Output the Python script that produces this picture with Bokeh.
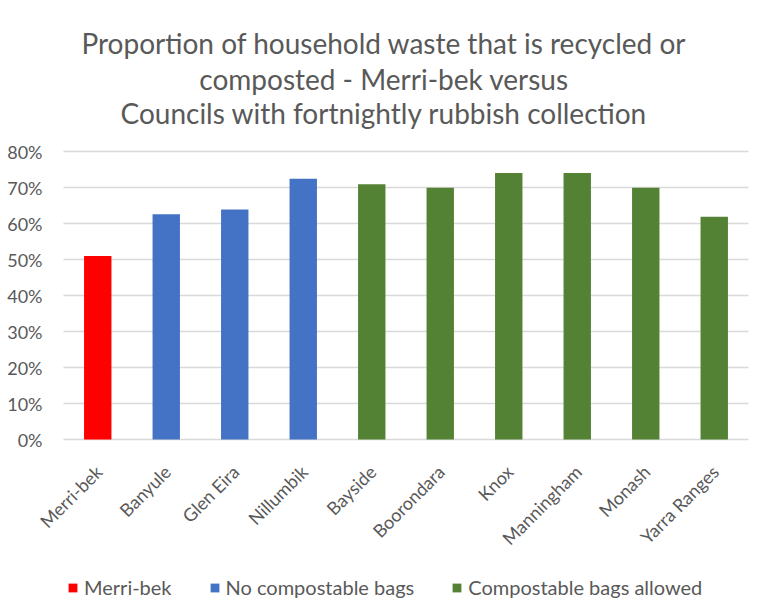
import math
from bokeh.plotting import figure
from bokeh.models import ColumnDataSource, Range1d, Legend, LegendItem
from bokeh.core.properties import value
from bokeh.embed import file_html
from bokeh.resources import INLINE

councils = ["Merri-bek", "Banyule", "Glen Eira", "Nillumbik", "Bayside",
            "Boorondara", "Knox", "Manningham", "Monash", "Yarra Ranges"]
recycled_pct = [51.0, 62.6, 63.9, 72.4, 70.9, 69.9, 74.0, 74.0, 69.9, 61.9]
groups = ["Merri-bek", "No compostable bags", "No compostable bags", "No compostable bags",
          "Compostable bags allowed", "Compostable bags allowed", "Compostable bags allowed",
          "Compostable bags allowed", "Compostable bags allowed", "Compostable bags allowed"]
group_names = ["Merri-bek", "No compostable bags", "Compostable bags allowed"]
y_ticks = [0, 10, 20, 30, 40, 50, 60, 70, 80]
y_tick_labels = ["0%", "10%", "20%", "30%", "40%", "50%", "60%", "70%", "80%"]
title_lines = ["Proportion of household waste that is recycled or",
               "composted - Merri-bek versus",
               "Councils with fortnightly rubbish collection"]

group_colors = {"Merri-bek": "#ff0000",
                "No compostable bags": "#4472c4",
                "Compostable bags allowed": "#548235"}

FONT = value("Lato")
GREY = "#595959"
W, H = 767, 615

# layout of the plotting area in pixels
PLOT_LEFT, PLOT_RIGHT = 63.0, 748.0
PLOT_TOP, PLOT_BOTTOM = 151.0, 439.0
n = len(councils)
px_per_cat = (PLOT_RIGHT - PLOT_LEFT) / n
px_per_unit = (PLOT_BOTTOM - PLOT_TOP) / y_ticks[-1]


def X(px):
    return (px - PLOT_LEFT) / px_per_cat


def Y(py):
    return (PLOT_BOTTOM - py) / px_per_unit


p = figure(x_range=Range1d(X(0), X(W)), y_range=Range1d(Y(H), Y(0)),
           width=W, height=H, output_backend="svg", toolbar_location=None,
           x_axis_location=None, y_axis_location=None,
           min_border_left=0, min_border_right=0, min_border_top=0, min_border_bottom=0)
p.xgrid.visible = False
p.ygrid.visible = False
p.outline_line_color = None

cat_x = [i + 0.5 for i in range(n)]

# horizontal gridlines at the value ticks
p.segment(x0=0, x1=n, y0=y_ticks, y1=y_ticks, line_color="#d9d9d9", line_width=1.3)

# bars
renderers = {}
for g in group_names:
    xs = [x for x, gg in zip(cat_x, groups) if gg == g]
    ys = [v for v, gg in zip(recycled_pct, groups) if gg == g]
    src = ColumnDataSource(dict(x=xs, top=ys))
    renderers[g] = p.vbar(x="x", top="top", bottom=0, width=0.40, source=src,
                          fill_color=group_colors[g], line_color=None)

# value axis labels
p.text(x=[X(42)] * len(y_ticks), y=y_ticks, text=y_tick_labels,
       text_align="right", text_baseline="middle", text_font=FONT,
       text_font_size="18px", text_color=GREY)

# category labels, rotated
p.text(x=[x + 1 / px_per_cat for x in cat_x], y=[Y(PLOT_BOTTOM + 29)] * n, text=councils,
       angle=math.pi / 4, text_align="right", text_baseline="middle", text_font=FONT,
       text_font_size="18px", text_color=GREY)

# title
title_baselines = [42, 78, 112]
p.text(x=[X(W / 2)] * 3, y=[Y(b) for b in title_baselines], text=title_lines,
       text_align="center", text_baseline="alphabetic", text_font=FONT,
       text_font_size="28px", text_color=GREY)

legend = Legend(items=[LegendItem(label=g, renderers=[renderers[g]]) for g in group_names],
                orientation="horizontal", location=(67, 16),
                label_text_font="Lato", label_text_font_size="20px", label_text_color=GREY,
                glyph_width=11, glyph_height=11, label_standoff=6, spacing=37,
                label_height=22, border_line_color=None, background_fill_alpha=0,
                padding=0, margin=0)
p.add_layout(legend, "center")

open("out.html", "w").write(file_html(p, INLINE))
